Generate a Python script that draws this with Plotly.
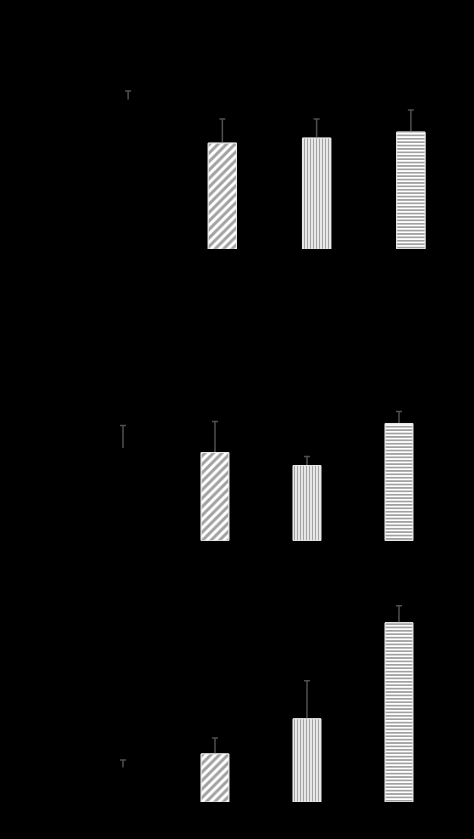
import plotly.graph_objects as go

groups = ['G1', 'G2', 'G3', 'G4']

top_means = [1.49, 1.06, 1.11, 1.17]
top_errs = [0.09, 0.24, 0.19, 0.22]

mid_means = [0.92, 0.88, 0.75, 1.17]
mid_errs = [0.23, 0.31, 0.09, 0.12]

low_means = [0.34, 0.48, 0.83, 1.79]
low_errs = [0.08, 0.16, 0.38, 0.17]

bar_colors = ['black', 'white', 'white', 'white']
edge_colors = ['black', '#e8e8e8', '#e8e8e8', '#e8e8e8']
shapes = ['', '/', '|', '-']
sizes = [8, 6, 3, 3.4]


def bar_marker():
    return dict(
        color=bar_colors,
        line=dict(color=edge_colors, width=1),
        pattern=dict(
            shape=shapes,
            size=sizes,
            solidity=0.5,
            fgcolor='black',
            bgcolor=bar_colors,
        ),
    )


def add_panel(fig, means, errs, n):
    # bars carrying the error bars, drawn first
    fig.add_trace(go.Bar(
        x=groups,
        y=means,
        xaxis=f'x{n}',
        yaxis=f'y{n}',
        marker=bar_marker(),
        error_y=dict(
            type='data',
            array=errs,
            color='#505050',
            thickness=1.5,
            width=3,
        ),
        showlegend=False,
        hoverinfo='skip',
    ))
    # same bars again on top, so only the upper half of each error bar shows
    fig.add_trace(go.Bar(
        x=groups,
        y=means,
        xaxis=f'x{n}',
        yaxis=f'y{n}',
        marker=bar_marker(),
        showlegend=False,
    ))


fig = go.Figure()
add_panel(fig, top_means, top_errs, 1)
add_panel(fig, mid_means, mid_errs, 2)
add_panel(fig, low_means, low_errs, 3)

axis_style = dict(
    showgrid=False,
    zeroline=False,
    showline=True,
    linecolor='black',
    ticks='outside',
    tickcolor='black',
    tickfont=dict(color='black', size=12),
)

fig.update_layout(
    autosize=True,
    margin=dict(l=0, r=0, t=0, b=0),
    paper_bgcolor='black',
    plot_bgcolor='black',
    font=dict(family='Liberation Sans', color='black'),
    barmode='overlay',
    bargap=0.7,
    xaxis1=dict(domain=[0.1709, 0.9662], anchor='y1', **axis_style),
    yaxis1=dict(domain=[0.7004, 0.9170], anchor='x1', range=[0, 1.8], **axis_style),
    xaxis2=dict(domain=[0.1624, 0.9388], anchor='y2', **axis_style),
    yaxis2=dict(domain=[0.3502, 0.5668], anchor='x2', range=[0, 1.8], **axis_style),
    xaxis3=dict(domain=[0.1624, 0.9388], anchor='y3', **axis_style),
    yaxis3=dict(domain=[0.0361, 0.2888], anchor='x3', range=[0, 2.1], **axis_style),
)

page_style = (
    "document.documentElement.style.margin='0';"
    "document.documentElement.style.overflow='hidden';"
    "document.body.style.margin='0';"
    "document.body.style.overflow='hidden';"
    "document.body.style.background='black';"
    "Plotly.Plots.resize(document.getElementById('{plot_id}'));"
)
fig.write_html(
    'out.html',
    config={'displayModeBar': False, 'responsive': True},
    default_width='100vw',
    default_height='100vh',
    post_script=page_style,
)
